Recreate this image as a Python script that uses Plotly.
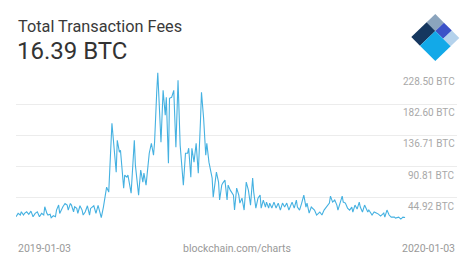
import pandas as pd
import plotly.graph_objects as go

# ---- data ----
start_date = "2019-01-03"
day_offsets = [0, 2, 4, 5, 7, 8, 10, 12, 14, 16, 18, 20, 22, 24, 26, 27, 29, 30, 32, 33,
               35, 37, 38, 40, 41, 43, 44, 46, 48, 49, 51, 52, 54, 55, 57, 58, 60, 62, 63, 65,
               67, 69, 70, 73, 75, 77, 80, 82, 83, 85, 87, 88, 90, 94, 95, 97, 98, 101, 102, 104,
               105, 108, 111, 112, 115, 117, 119, 120, 122, 125, 127, 129, 130, 132, 133, 136, 138, 140, 141, 143,
               144, 146, 148, 150, 152, 154, 157, 159, 161, 162, 164, 165, 167, 169, 171, 173, 174, 176, 178, 179,
               181, 184, 185, 188, 190, 191, 193, 194, 196, 198, 199, 201, 202, 204, 205, 207, 209, 210, 212, 214,
               216, 218, 220, 222, 223, 225, 227, 229, 230, 232, 234, 235, 237, 238, 240, 242, 244, 246, 248, 250,
               252, 254, 256, 258, 259, 261, 263, 264, 266, 268, 270, 272, 273, 275, 277, 280, 282, 285, 287, 289,
               291, 294, 295, 297, 299, 301, 302, 304, 306, 307, 309, 311, 313, 315, 316, 318, 320, 322, 323, 325,
               327, 330, 331, 334, 336, 338, 340, 342, 345, 346, 348, 350, 352, 355, 356, 359, 361, 363, 365]
fees_btc = [17.4, 22.3, 19.9, 24.7, 19.9, 22.3, 24.7, 20.9, 25.7, 17.4, 22.3, 24.7, 17.4, 22.3, 19.9, 32.0, 22.3, 19.9, 21.0, 15.9,
            18.9, 17.4, 27.2, 34.5, 22.3, 29.6, 32.0, 36.9, 34.5, 27.2, 36.9, 34.5, 24.7, 32.0, 29.6, 22.3, 33.5, 27.2, 19.9, 24.7,
            33.5, 19.9, 29.6, 33.5, 22.5, 34.0, 16.0, 31.6, 42.0, 60.8, 53.5, 82.7, 154.4, 82.7, 129.5, 112.0, 114.9, 59.4, 78.4, 75.4,
            78.4, 52.0, 129.5, 93.0, 49.1, 85.9, 68.1, 81.3, 63.8, 110.5, 125.1, 107.6, 126.6, 199.7, 228.5, 126.6, 202.6, 166.1, 192.4, 95.9,
            190.9, 192.4, 202.6, 119.3, 217.2, 122.2, 63.8, 110.5, 110.5, 117.8, 75.4, 117.8, 97.4, 125.1, 81.3, 155.9, 199.7, 161.7, 107.6, 125.1,
            97.4, 74.0, 46.2, 82.7, 68.1, 41.9, 63.8, 66.7, 71.1, 41.9, 63.8, 56.4, 53.5, 49.1, 27.2, 59.4, 49.1, 37.4, 44.7, 27.2,
            68.1, 56.4, 34.5, 74.0, 53.5, 30.1, 44.7, 49.1, 30.1, 41.9, 31.6, 38.9, 30.1, 37.4, 30.1, 38.9, 30.1, 37.4, 27.2, 37.4,
            31.6, 37.4, 27.2, 34.5, 38.9, 30.1, 41.9, 31.6, 27.2, 37.4, 49.1, 31.6, 37.4, 22.8, 31.6, 27.2, 19.9, 24.3, 19.9, 27.2,
            31.6, 37.4, 47.7, 38.9, 41.9, 34.5, 27.2, 37.4, 47.7, 38.9, 37.4, 30.1, 27.2, 31.6, 24.3, 34.5, 28.7, 38.9, 31.6, 24.3,
            34.5, 24.3, 27.2, 19.9, 24.3, 22.8, 21.3, 18.4, 22.8, 16.9, 27.2, 19.9, 16.9, 16.9, 15.5, 16.9, 14.0, 16.9, 16.39]
tick_values = [44.92, 90.81, 136.71, 182.60, 228.50]
tick_labels = ["44.92 BTC", "90.81 BTC", "136.71 BTC", "182.60 BTC", "228.50 BTC"]
axis_floor = -0.97
title_text = "Total Transaction Fees"
value_text = "16.39 BTC"
start_label = "2019-01-03"
end_label = "2020-01-03"
source_text = "blockchain.com/charts"

dates = pd.Timestamp(start_date) + pd.to_timedelta(day_offsets, unit="D")

# ---- layout geometry ----
W, H = 474, 266
ML, MR, MT, MB = 16, 17, 72, 36
PW, PH = W - ML - MR, H - MT - MB


def px(x):
    return (x - ML) / PW


def py(y):
    return (H - MB - y) / PH


fig = go.Figure()
fig.add_trace(go.Scatter(x=dates, y=fees_btc, mode="lines",
                         line=dict(color="#45b1e1", width=1.1),
                         hoverinfo="skip", showlegend=False))

x_end = pd.Timestamp(start_date) + pd.Timedelta(days=413.7)

fig.update_layout(
    width=W, height=H,
    margin=dict(l=ML, r=MR, t=MT, b=MB, pad=0),
    paper_bgcolor="white", plot_bgcolor="white",
    font=dict(family="Roboto, sans-serif"),
    xaxis=dict(range=[pd.Timestamp(start_date), x_end], showgrid=False,
               showticklabels=False, zeroline=False, showline=False, ticks=""),
    yaxis=dict(range=[-2.0, 229.5], tickvals=[axis_floor] + tick_values,
               showticklabels=False, showgrid=True, gridcolor="#ececec", gridwidth=1,
               zeroline=False, showline=False, ticks=""),
)

annotations = []
for v, t in zip(tick_values, tick_labels):
    annotations.append(dict(x=1, xref="paper", y=v, yref="y", text=t, showarrow=False,
                            xanchor="right", yanchor="top", yshift=-1,
                            font=dict(size=10, color="#a8a8a8")))
annotations += [
    dict(x=px(15.5), y=py(26), xref="paper", yref="paper", text=title_text, showarrow=False,
         xanchor="left", yanchor="middle", font=dict(size=16.3, color="#3a3a3a")),
    dict(x=px(14.5), y=py(51), xref="paper", yref="paper", text=value_text, showarrow=False,
         xanchor="left", yanchor="middle", font=dict(size=24, color="#333333")),
    dict(x=0, y=py(248), xref="paper", yref="paper", text=start_label, showarrow=False,
         xanchor="left", yanchor="middle", font=dict(size=10.5, color="#999999")),
    dict(x=1, y=py(248), xref="paper", yref="paper", text=end_label, showarrow=False,
         xanchor="right", yanchor="middle", font=dict(size=10.5, color="#999999")),
    dict(x=px(237), y=py(248), xref="paper", yref="paper", text=source_text, showarrow=False,
         xanchor="center", yanchor="middle", font=dict(size=10.5, color="#999999")),
]
fig.update_layout(annotations=annotations)

# ---- logo (decorative diamond) ----
top = (435.3, 14.0)
e_a = ((459.3 - 435.3), (38.0 - 14.0))   # toward right corner
e_b = ((411.3 - 435.3), (37.0 - 14.0))   # toward left corner


def pt(a, b):
    x = top[0] + a * e_a[0] + b * e_b[0]
    y = top[1] + a * e_a[1] + b * e_b[1]
    return px(x), py(y)


def quad(a0, a1, b0, b1, color):
    pts = [pt(a0, b0), pt(a1, b0), pt(a1, b1), pt(a0, b1)]
    path = "M " + " L ".join(f"{x:.5f},{y:.5f}" for x, y in pts) + " Z"
    return dict(type="path", xref="paper", yref="paper", path=path,
                fillcolor=color, line=dict(width=0), layer="above")


s = 0.36
shapes = [
    quad(0, s, 0, s, "#8ba4bd"),
    quad(s, 0.69, 0, s, "#3b52c8"),
    quad(0.69, 1, 0, s, "#b4d2ec"),
    quad(0, s, s, 1, "#15375f"),
    quad(s, 1, s, 1, "#12a9e8"),
]
fig.update_layout(shapes=shapes)

fig.write_html("out.html")
